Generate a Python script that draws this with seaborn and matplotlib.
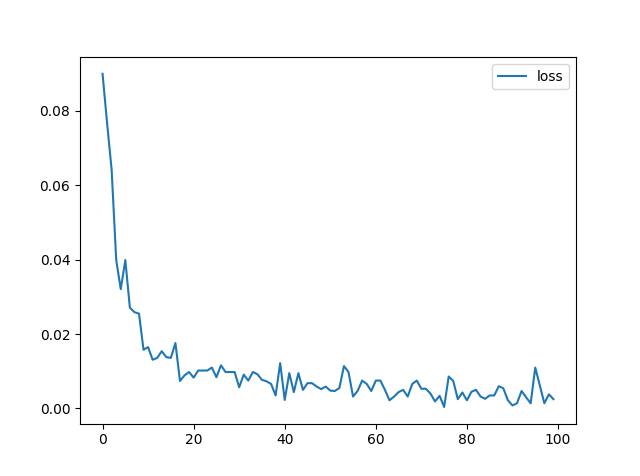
import matplotlib
matplotlib.use("Agg")
import matplotlib.pyplot as plt
import numpy as np
import pandas as pd
import seaborn as sns

# per-epoch loss values
loss = [
    0.0900, 0.0767, 0.0641, 0.0399, 0.0321, 0.0399, 0.0271, 0.0259, 0.0255, 0.0158,
    0.0165, 0.0131, 0.0136, 0.0154, 0.0138, 0.0136, 0.0176, 0.0074, 0.0089, 0.0098,
    0.0083, 0.0102, 0.0102, 0.0102, 0.0110, 0.0084, 0.0116, 0.0098, 0.0098, 0.0098,
    0.0057, 0.0091, 0.0075, 0.0098, 0.0092, 0.0077, 0.0073, 0.0066, 0.0035, 0.0122,
    0.0023, 0.0095, 0.0044, 0.0095, 0.0050, 0.0068, 0.0068, 0.0059, 0.0052, 0.0059,
    0.0048, 0.0047, 0.0055, 0.0114, 0.0098, 0.0032, 0.0047, 0.0075, 0.0066, 0.0047,
    0.0075, 0.0075, 0.0050, 0.0022, 0.0032, 0.0044, 0.0050, 0.0032, 0.0066, 0.0075,
    0.0053, 0.0053, 0.0040, 0.0019, 0.0034, 0.0004, 0.0086, 0.0074, 0.0025, 0.0043,
    0.0022, 0.0045, 0.0050, 0.0032, 0.0026, 0.0035, 0.0035, 0.0060, 0.0054, 0.0022,
    0.0008, 0.0014, 0.0047, 0.0030, 0.0014, 0.0110, 0.0062, 0.0014, 0.0038, 0.0025,
]
epochs = list(range(len(loss)))

df = pd.DataFrame({"epoch": epochs, "loss": loss})

fig, ax = plt.subplots(figsize=(6.4, 4.76), dpi=100)
sns.lineplot(data=df, x="epoch", y="loss", ax=ax, label="loss", color="#1f77b4")
ax.set_xlabel("")
ax.set_ylabel("")
ax.legend(loc="upper right")
fig.savefig("out.png", dpi=100)
plt.close(fig)
